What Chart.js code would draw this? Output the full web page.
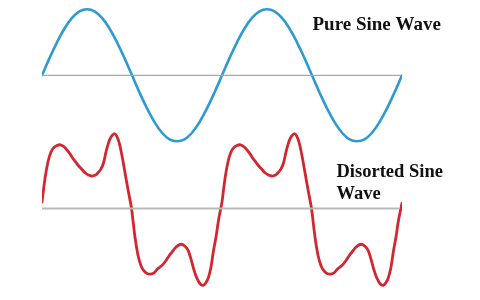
<!DOCTYPE html>
<html>
<head>
<meta charset="utf-8">
<script src="https://cdn.jsdelivr.net/npm/chart.js@4"></script>
<style>
  html, body { margin: 0; padding: 0; background: #ffffff; }
  #wrap { width: 480px; height: 300px; }
</style>
</head>
<body>
<div id="wrap"><canvas id="c" width="480" height="300"></canvas></div>
<script>
// ---- Data (phase in degrees, amplitude relative to pure wave peak) ----
const pureAngles = [0,15,30,45,60,75,90,105,120,135,150,165,180,195,210,225,240,255,270,285,300,315,330,345,
                    360,375,390,405,420,435,450,465,480,495,510,525,540,555,570,585,600,615,630,645,660,675,690,705,720];
const pureValues = [0,0.26,0.5,0.71,0.87,0.97,1,0.97,0.87,0.71,0.5,0.26,0,-0.26,-0.5,-0.71,-0.87,-0.97,-1,-0.97,-0.87,-0.71,-0.5,-0.26,
                    0,0.26,0.5,0.71,0.87,0.97,1,0.97,0.87,0.71,0.5,0.26,0,-0.26,-0.5,-0.71,-0.87,-0.97,-1,-0.97,-0.87,-0.71,-0.5,-0.26,0];

const distortedAngles = [
  0,6,12,18,24,30,37,44,50,56,62,68,74,80,86,92,99,106,112,118,123,128,133,138,144,149,154,159,164,169,174,179,
  186,192,198,204,210,217,224,230,236,242,248,254,260,266,272,279,286,292,298,303,308,313,318,323,328,333,338,343,348,353,358,
  360,366,372,378,384,390,397,404,410,416,422,428,434,440,446,452,459,466,472,478,483,488,493,498,504,509,514,519,524,529,534,539,
  546,552,558,564,570,577,584,590,596,602,608,614,620,626,632,639,646,652,658,663,668,673,678,683,688,693,698,703,708,713,720];
const distortedValues = [
  0.10,0.46,0.72,0.87,0.94,0.97,0.98,0.95,0.90,0.84,0.77,0.71,0.65,0.60,0.55,0.52,0.50,0.51,0.55,0.61,0.70,0.87,1.01,1.10,1.15,1.12,1.02,0.85,0.64,0.42,0.21,0.00,
  -0.44,-0.72,-0.88,-0.96,-1.00,-1.01,-0.99,-0.94,-0.90,-0.86,-0.80,-0.73,-0.67,-0.61,-0.57,-0.55,-0.58,-0.64,-0.78,-0.92,-1.04,-1.12,-1.17,-1.18,-1.14,-1.06,-0.90,-0.65,-0.44,-0.18,0.02,
  0.10,0.46,0.72,0.87,0.94,0.97,0.98,0.95,0.90,0.84,0.77,0.71,0.65,0.60,0.55,0.52,0.50,0.51,0.55,0.61,0.70,0.87,1.01,1.10,1.15,1.12,1.02,0.85,0.64,0.42,0.21,0.00,
  -0.44,-0.72,-0.88,-0.96,-1.00,-1.01,-0.99,-0.94,-0.90,-0.86,-0.80,-0.73,-0.67,-0.61,-0.57,-0.55,-0.58,-0.64,-0.78,-0.92,-1.04,-1.12,-1.17,-1.18,-1.14,-1.06,-0.90,-0.65,-0.44,-0.18,0.08];

const pureBaselineAngles = [0, 716];
const distortedBaselineAngles = [0, 712];

const labelPure = ["Pure Sine Wave"];
const labelDistorted = ["Disorted Sine", "Wave"];

// ---- Build datasets ----
const toPoints = (xs, ys) => xs.map((x, i) => ({ x: x, y: ys[i] }));
const zeroLine = (xs) => xs.map(x => ({ x: x, y: 0 }));

const textPlugin = {
  id: 'waveLabels',
  afterDatasetsDraw(chart, args, opts) {
    const ctx = chart.ctx;
    ctx.save();
    ctx.fillStyle = '#111111';
    ctx.textBaseline = 'alphabetic';
    ctx.textAlign = 'left';
    opts.items.forEach(it => {
      ctx.font = 'bold ' + it.size + 'px "Liberation Serif", "Times New Roman", serif';
      it.lines.forEach((line, i) => {
        ctx.fillText(line, it.x, it.y + i * it.lineHeight);
      });
    });
    ctx.restore();
  }
};

new Chart(document.getElementById('c'), {
  type: 'line',
  data: {
    datasets: [
      { label: 'pure baseline', data: zeroLine(pureBaselineAngles), yAxisID: 'yA',
        borderColor: '#a8a8a8', borderWidth: 1.2, pointRadius: 0, tension: 0 },
      { label: 'distorted baseline', data: zeroLine(distortedBaselineAngles), yAxisID: 'yB',
        borderColor: '#b8b8b8', borderWidth: 2, pointRadius: 0, tension: 0 },
      { label: 'Pure Sine Wave', data: toPoints(pureAngles, pureValues), yAxisID: 'yA',
        borderColor: '#2e9ad2', borderWidth: 2.6, pointRadius: 0, tension: 0.4 },
      { label: 'Disorted Sine Wave', data: toPoints(distortedAngles, distortedValues), yAxisID: 'yB',
        borderColor: '#d22630', borderWidth: 2.8, pointRadius: 0, tension: 0.4 }
    ]
  },
  options: {
    responsive: false,
    animation: false,
    devicePixelRatio: 1,
    layout: { padding: { left: 42, right: 78, top: 0, bottom: 0 } },
    plugins: {
      legend: { display: false },
      tooltip: { enabled: false },
      waveLabels: {
        items: [
          { lines: labelPure, x: 312.5, y: 29.5, size: 19, lineHeight: 22 },
          { lines: labelDistorted, x: 336.5, y: 176.8, size: 18.5, lineHeight: 22.3 }
        ]
      }
    },
    scales: {
      x: { type: 'linear', min: 0, max: 720, display: false },
      yA: { type: 'linear', min: -3.404, max: 1.141, display: false },
      yB: { type: 'linear', min: -1.408, max: 3.208, display: false }
    },
    elements: { line: { fill: false, borderCapStyle: 'round', borderJoinStyle: 'round' } }
  },
  plugins: [textPlugin]
});
</script>
</body>
</html>
